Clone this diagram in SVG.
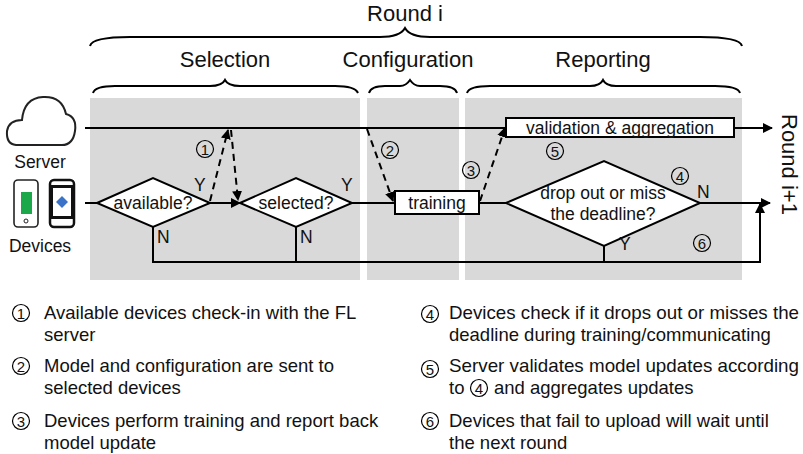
<svg xmlns="http://www.w3.org/2000/svg" width="803" height="454" viewBox="0 0 803 454">
<style>
text{font-family:"Liberation Sans",Arial,sans-serif;fill:#111}
.ln{stroke:#000;stroke-width:2;fill:none}
.ds{stroke:#000;stroke-width:2;fill:none;stroke-dasharray:7,5}
.shape{fill:#fff;stroke:#000;stroke-width:2}
.panel{fill:#d9d9d9}
.cn{fill:none;stroke:#000;stroke-width:1.2}
.hd{font-size:22px}
.lb{font-size:17.5px}
.ft{font-size:18.5px}
</style>
<defs>
<marker id="ah" viewBox="0 0 10 10" refX="9" refY="5" markerWidth="10" markerHeight="10" markerUnits="userSpaceOnUse" orient="auto"><path d="M0,0L10,5L0,10z" fill="#000"/></marker>
</defs>
<rect width="803" height="454" fill="#fff"/>
<g id="panels">
<rect class="panel" x="90" y="98" width="270" height="182"/>
<rect class="panel" x="367" y="98" width="92" height="182"/>
<rect class="panel" x="465" y="98" width="277" height="182"/>
</g>
<g id="header">
<text class="hd" x="405" y="21" text-anchor="middle">Round i</text>
<path class="ln" stroke-width="3" d="M90,46 Q92,37 130,37 L380,37 Q400,37 405,28 Q410,37 430,37 L700,37 Q740,37 742,46"/>
<text class="hd" x="225" y="67" text-anchor="middle">Selection</text>
<text class="hd" x="408" y="67" text-anchor="middle">Configuration</text>
<text class="hd" x="603" y="67" text-anchor="middle">Reporting</text>
<path class="ln" stroke-width="3" d="M93,93 Q95,86 115,86 L210,86 Q222,86 225,80 Q228,86 240,86 L335,86 Q355,86 358,93"/>
<path class="ln" stroke-width="3" d="M369,93 Q371,86 385,86 L400,86 Q406,86 410,80 Q414,86 420,86 L440,86 Q455,86 457,93"/>
<path class="ln" stroke-width="3" d="M467,93 Q469,86 490,86 L590,86 Q600,86 603,80 Q606,86 616,86 L715,86 Q738,86 740,93"/>
</g>
<g id="server">
<path d="M16,145 Q6,144 7,131 Q9,120 22,120 Q24,98 43,97 Q62,96 66,114 Q77,117 75,131 Q73,145 62,145 Z" fill="#fff" stroke="#222" stroke-width="2"/>
<text class="lb" x="40" y="168" text-anchor="middle" font-size="18.5">Server</text>
</g>
<g id="devices">
<rect x="14" y="180" width="24" height="47" rx="4" fill="#fff" stroke="#222" stroke-width="1.6"/>
<rect x="21" y="192" width="11" height="22" fill="#1aa84a"/>
<circle cx="26" cy="221" r="2" fill="none" stroke="#222"/>
<rect x="50" y="180" width="24" height="47" rx="4" fill="#fff" stroke="#111" stroke-width="2.5"/>
<rect x="50" y="185" width="24" height="34" fill="#111"/>
<rect x="53" y="188" width="18" height="28" fill="#fff"/>
<path d="M62,196 L68,202 L62,208 L56,202 Z" fill="#3b73c9"/>
<text class="lb" x="40" y="252" text-anchor="middle" font-size="18.5">Devices</text>
</g>
<g id="connectors">
<line class="ln" x1="85" y1="128" x2="506" y2="128"/>
<line class="ln" x1="734" y1="128" x2="772" y2="128" marker-end="url(#ah)"/>
<line class="ln" x1="85" y1="203" x2="97" y2="203"/>
<line class="ln" x1="210" y1="203" x2="240" y2="203" marker-end="url(#ah)"/>
<line class="ln" x1="352" y1="203" x2="395" y2="203"/>
<line class="ln" x1="479" y1="203" x2="506" y2="203"/>
<line class="ln" x1="700" y1="203" x2="770" y2="203" marker-end="url(#ah)"/>
<polyline class="ln" points="153,227 153,262 760,262 760,204" marker-end="url(#ah)"/>
<line class="ln" x1="296" y1="227" x2="296" y2="262"/>
<line class="ln" x1="604" y1="246" x2="604" y2="262"/>
<line class="ds" x1="210" y1="201" x2="228" y2="130" marker-end="url(#ah)"/>
<line class="ds" x1="231" y1="130" x2="238" y2="200" marker-end="url(#ah)"/>
<line class="ds" x1="367" y1="129" x2="393" y2="201" marker-end="url(#ah)"/>
<line class="ds" x1="480" y1="201" x2="505" y2="128" marker-end="url(#ah)"/>
</g>
<g id="available"><path class="shape" d="M97,203 L153,178 L210,203 L153,227 Z"/><text class="lb" x="153" y="209" text-anchor="middle">available?</text></g>
<g id="selected"><path class="shape" d="M240,203 L296,178 L352,203 L296,227 Z"/><text class="lb" x="296" y="209" text-anchor="middle">selected?</text></g>
<g id="training"><rect class="shape" x="395" y="191" width="84" height="23"/><text class="lb" x="437" y="209" text-anchor="middle">training</text></g>
<g id="validation"><rect class="shape" x="506" y="118" width="228" height="19"/><text class="lb" x="620" y="134" text-anchor="middle">validation  &amp; aggregation</text></g>
<g id="dropout"><path class="shape" d="M506,203 L604,161 L700,203 L604,246 Z"/><text class="lb" x="603" y="199" text-anchor="middle">drop out or miss</text><text class="lb" x="603" y="220" text-anchor="middle">the deadline?</text></g>
<g id="labels" class="lb">
<text x="194" y="191">Y</text>
<text x="341" y="191">Y</text>
<text x="157" y="243">N</text>
<text x="300" y="243">N</text>
<text x="697" y="198">N</text>
<text x="619" y="250">Y</text>
<g id="c1"><circle class="cn" cx="205" cy="149" r="8.5"/><text x="205" y="155" text-anchor="middle" font-size="15">1</text></g>
<g id="c2"><circle class="cn" cx="390" cy="150" r="8.5"/><text x="390" y="156" text-anchor="middle" font-size="15">2</text></g>
<g id="c3"><circle class="cn" cx="471" cy="170" r="8.5"/><text x="471" y="176" text-anchor="middle" font-size="15">3</text></g>
<g id="c5"><circle class="cn" cx="555" cy="151" r="8.5"/><text x="555" y="157" text-anchor="middle" font-size="15">5</text></g>
<g id="c4"><circle class="cn" cx="680" cy="176" r="8.5"/><text x="680" y="182" text-anchor="middle" font-size="15">4</text></g>
<g id="c6"><circle class="cn" cx="702" cy="243" r="8.5"/><text x="702" y="249" text-anchor="middle" font-size="15">6</text></g>
</g>
<text class="hd" transform="translate(782,114) rotate(90)">Round i+1</text>
<g id="legend" class="ft">
<circle class="cn" cx="21" cy="313" r="8.5"/><text x="21" y="319" text-anchor="middle" font-size="15">1</text>
<text x="44" y="319">Available  devices check-in with  the FL</text><text x="44" y="341">server</text>
<circle class="cn" cx="21" cy="366" r="8.5"/><text x="21" y="372" text-anchor="middle" font-size="15">2</text>
<text x="44" y="372">Model and configuration are sent to</text><text x="44" y="394">selected devices</text>
<circle class="cn" cx="21" cy="421" r="8.5"/><text x="21" y="427" text-anchor="middle" font-size="15">3</text>
<text x="44" y="427">Devices perform training  and report back</text><text x="44" y="449">model update</text>
<circle class="cn" cx="430" cy="314" r="8.5"/><text x="430" y="320" text-anchor="middle" font-size="15">4</text>
<text x="449" y="319" textLength="350" lengthAdjust="spacingAndGlyphs">Devices check if it drops out or misses the</text><text x="449" y="341">deadline  during training/communicating</text>
<circle class="cn" cx="430" cy="369" r="8.5"/><text x="430" y="375" text-anchor="middle" font-size="15">5</text>
<text x="449" y="372" textLength="350" lengthAdjust="spacingAndGlyphs">Server validates model updates according</text><text x="449" y="394">to</text>
<circle class="cn" cx="479" cy="388" r="8.5"/><text x="479" y="394" text-anchor="middle" font-size="15">4</text>
<text x="494" y="394">and aggregates updates</text>
<circle class="cn" cx="430" cy="421" r="8.5"/><text x="430" y="427" text-anchor="middle" font-size="15">6</text>
<text x="449" y="427">Devices that fail to upload will wait until</text><text x="449" y="449">the next round</text>
</g>
</svg>
